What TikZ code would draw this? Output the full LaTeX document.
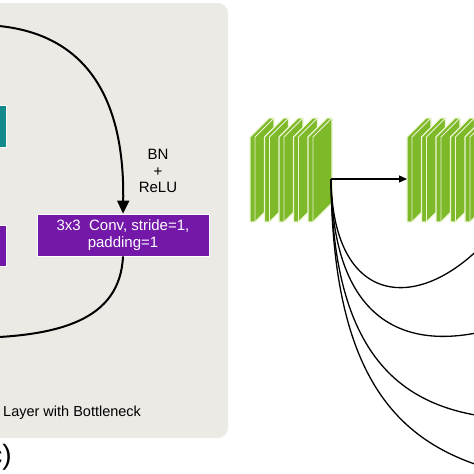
\documentclass[tikz,border=0pt]{standalone}
\usepackage{fontspec}
\setmainfont{Liberation Sans}
\usetikzlibrary{arrows.meta}

\definecolor{panelgray}{HTML}{ECEAE5}
\definecolor{convpurple}{HTML}{7318A8}
\definecolor{bnteal}{HTML}{148A8C}
\definecolor{fmgreen}{HTML}{7DB928}
\definecolor{fmedge}{HTML}{EEF6D6}

\tikzset{
  lbl/.style={font=\fontsize{15}{16.5}\selectfont, align=center, inner sep=0pt},
  block/.style={draw=white, line width=0.8pt, inner sep=0pt},
  conn/.style={line width=2pt},
  skip/.style={line width=1.3pt},
  slabface/.style={fill=fmgreen, draw=fmedge, line width=1.2pt, line join=round}
}

% one feature map, front face at x = #1
\newcommand{\slab}[1]{%
  \filldraw[slabface] (#1,222) -- (#1,137) -- ++(19,-19) -- ++(5,0) -- ++(0,85) -- (#1+5,222) -- cycle;
  \draw[fmedge, line width=0.8pt] (#1+5,222) -- (#1+5,137) -- ++(19,-19);}

\begin{document}
\begin{tikzpicture}[x=1pt, y=-1pt]
  \useasboundingbox (0,0) rectangle (474,474);
  \clip (0,0) rectangle (474,474);
  \fill[panelgray, rounded corners=10pt] (-20,3) rectangle (228,438);

  % blocks cut by the left border
  \node[block, fill=bnteal, minimum width=27, minimum height=42, anchor=north east] (bn) at (7,105) {};
  \node[block, fill=convpurple, minimum width=27, minimum height=41, anchor=north east] (conv1) at (7,225) {};

  \node[lbl, block, fill=convpurple, text=white, minimum width=172, minimum height=42] (conv3) at (123,235) {3x3\ \ Conv, stride=1,\\padding=1};
  \node[lbl] (bnrelu) at (158,171) {BN\\+\\ReLU};
  \node[lbl, anchor=west, font=\fontsize{14.5}{16}\selectfont] (title) at (3,413) {Layer with Bottleneck};
  \node[anchor=east, inner sep=0pt, font=\fontsize{28}{30}\selectfont] (tag) at (12,457) {(c)};

  \coordinate (prevtop) at (-30,25);
  \coordinate (prevbot) at (-30,338);
  \draw[conn, -{Triangle[length=13pt, width=12pt]}] (prevtop) .. controls (80,22) and (125,90) .. (conv3.north);
  \draw[conn] (conv3.south) .. controls (120,320) and (60,337) .. (prevbot);

  % feature maps
  \foreach \x in {250,264.5,279,293.5,308} { \slab{\x} }
  \foreach \x in {407,421.5,436,450.5,465} { \slab{\x} }

  \coordinate (out1) at (331,179);
  \coordinate (in2) at (407,179);
  \coordinate (in3) at (500,225);
  \coordinate (in4) at (520,320);
  \coordinate (in5) at (540,420);
  \coordinate (in6) at (540,480);
  \draw[skip, -{Triangle[length=8pt, width=7pt]}] (out1) -- (in2);
  \draw[skip] (out1) .. controls (333,315) and (430,315) .. (in3);
  \draw[skip] (out1) .. controls (333,345) and (430,355) .. (in4);
  \draw[skip] (out1) .. controls (333,390) and (430,420) .. (in5);
  \draw[skip] (out1) .. controls (333,410) and (420,460) .. (in6);
\end{tikzpicture}
\end{document}
